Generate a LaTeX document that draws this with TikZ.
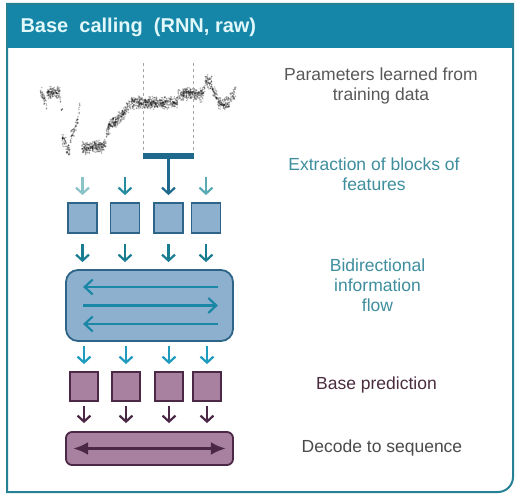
\documentclass[tikz,border=0pt]{standalone}
\usepackage{fontspec}
\setmainfont{Liberation Sans}
\usetikzlibrary{arrows.meta}
\definecolor{headc}{RGB}{22,134,168}
\definecolor{headtext}{RGB}{225,248,250}
\definecolor{framec}{RGB}{38,128,150}
\definecolor{graytext}{RGB}{89,89,89}
\definecolor{tealtext}{RGB}{62,142,158}
\definecolor{purptext}{RGB}{75,44,63}
\definecolor{dectext}{RGB}{74,74,74}
\definecolor{bluefill}{RGB}{140,176,206}
\definecolor{blueline}{RGB}{45,100,135}
\definecolor{barc}{RGB}{30,105,140}
\definecolor{inarrc}{RGB}{25,135,165}
\definecolor{rowtwo}{RGB}{25,125,145}
\definecolor{rowthree}{RGB}{30,155,190}
\definecolor{purpfill}{RGB}{168,128,160}
\definecolor{purpline}{RGB}{75,40,70}
\definecolor{aone}{RGB}{140,195,200}
\definecolor{atwo}{RGB}{40,140,160}
\definecolor{afour}{RGB}{90,170,180}
\begin{document}
\begin{tikzpicture}[x=1pt,y=-1pt,
  lbl/.style={align=center,font=\fontsize{17.5}{20}\selectfont},
  bsq/.style={draw=blueline,fill=bluefill,line width=1.8pt,minimum width=29pt,minimum height=30pt,inner sep=0pt},
  psq/.style={draw=purpline,fill=purpfill,line width=1.8pt,minimum width=28pt,minimum height=29pt,inner sep=0pt},
  darr/.style={line width=2.2pt,-{Straight Barb[length=6pt,width=13pt]}},
  inarr/.style={line width=2.2pt,draw=inarrc,-{Straight Barb[length=8pt,width=15pt]}},
  dot/.style={fill=black,opacity=0.3}]
\useasboundingbox (0,0) rectangle (525,500);
% frame and header
\fill[white] (7,4) -- (513,4) -- (513,477) arc[start angle=0,end angle=90,radius=15] -- (7,492) -- cycle;
\fill[headc] (7,4) rectangle (513,48);
\draw[framec,line width=2pt] (7,4) -- (513,4) -- (513,477) arc[start angle=0,end angle=90,radius=15] -- (7,492) -- cycle;
\node[anchor=west,text=headtext,font=\bfseries\fontsize{20}{24}\selectfont] (title) at (17,27) {Base\ \ calling\ \ (RNN, raw)};
% raw signal trace
\pgfmathsetseed{7}
\foreach \xa/\xb/\ya/\yb/\d in {40/44/88/100/6,44/47/100/106/6,47/60/92/92/10,60/63/100/112/3,62/66/138/142/8,66/70/148/150/8,70/74/138/132/6,74/78/130/120/6,78/80/118/108/4,82/106/148/146/10,106/110/135/128/6,108/118/125/120/10,118/126/118/112/10,126/132/110/100/6,132/178/103/103/10,178/202/94/94/10,200/205/100/88/5,205/212/82/82/9,212/218/88/100/8,218/230/104/103/9,230/236/98/92/6}{
  \pgfmathtruncatemacro\n{\d*(\xb-\xa)}
  \foreach \i in {1,...,\n}{
    \pgfmathsetmacro\t{rnd}
    \pgfmathsetmacro\px{\xa+\t*(\xb-\xa)}
    \pgfmathsetmacro\py{\ya+\t*(\yb-\ya)+3.6*(rand+rand)}
    \fill[dot] (\px,\py) circle (0.85);
  }
}
\draw[dashed,gray!70,line width=0.6pt] (143.5,63) -- (143.5,153);
\draw[dashed,gray!70,line width=0.6pt] (193.5,63) -- (193.5,153);
\node[fill=barc,minimum width=51pt,minimum height=6pt,inner sep=0pt] (bar) at (168.5,156) {};
% feature blocks
\node[bsq] (b1) at (82.5,218) {};
\node[bsq] (b2) at (125,218) {};
\node[bsq] (b3) at (168.5,218) {};
\node[bsq] (b4) at (206,218) {};
\coordinate (c1) at (82.5,177);
\coordinate (c2) at (125,177);
\coordinate (c4) at (206,177);
\draw[darr,draw=aone] (c1) -- ([yshift=7pt]b1.north);
\draw[darr,draw=atwo] (c2) -- ([yshift=7pt]b2.north);
\draw[darr,draw=barc] (bar.south) -- ([yshift=7pt]b3.north);
\draw[darr,draw=afour] (c4) -- ([yshift=7pt]b4.north);
% bidirectional block
\node[draw=blueline,fill=bluefill,line width=1.8pt,rounded corners=12pt,minimum width=167pt,minimum height=71pt,inner sep=0pt] (big) at (149.5,305.5) {};
\foreach \k in {1,2,3,4}{
  \draw[darr,draw=rowtwo,shorten <=10pt,shorten >=7pt] (b\k.south) -- (b\k.south |- big.north);
}
\draw[inarr] ([xshift=-16pt,yshift=18.5pt]big.east) -- ([xshift=18pt,yshift=18.5pt]big.west);
\draw[inarr] ([xshift=18pt]big.west) -- ([xshift=-16pt]big.east);
\draw[inarr] ([xshift=-16pt,yshift=-18.5pt]big.east) -- ([xshift=18pt,yshift=-18.5pt]big.west);
% base prediction
\node[psq] (p1) at (84,386.5) {};
\node[psq] (p2) at (126,386.5) {};
\node[psq] (p3) at (169,386.5) {};
\node[psq] (p4) at (207,386.5) {};
\node[draw=purpline,fill=purpfill,line width=1.8pt,rounded corners=6pt,minimum width=167pt,minimum height=33pt,inner sep=0pt] (dec) at (149.5,448.5) {};
\foreach \k in {1,2,3,4}{
  \draw[darr,draw=rowthree,shorten <=4pt,shorten >=7pt] (p\k.north |- big.south) -- (p\k.north);
  \draw[darr,draw=purpline,shorten <=4pt,shorten >=8pt] (p\k.south) -- (p\k.south |- dec.north);
}
\draw[line width=3.2pt,draw=purpline,{Latex[length=15pt,width=13pt]}-{Latex[length=15pt,width=13pt]}] ([xshift=8pt]dec.west) -- ([xshift=-8pt]dec.east);
% labels
\node[lbl,text=graytext] (t1) at (381,86) {Parameters learned from\\training data};
\node[lbl,text=tealtext] (t2) at (374,174) {Extraction of blocks of\\features};
\node[lbl,text=tealtext] (t3) at (377.5,285.5) {Bidirectional\\information\\flow};
\node[lbl,text=purptext] (t4) at (376.5,385) {Base prediction};
\node[lbl,text=dectext] (t5) at (382,448) {Decode to sequence};
\end{tikzpicture}
\end{document}
